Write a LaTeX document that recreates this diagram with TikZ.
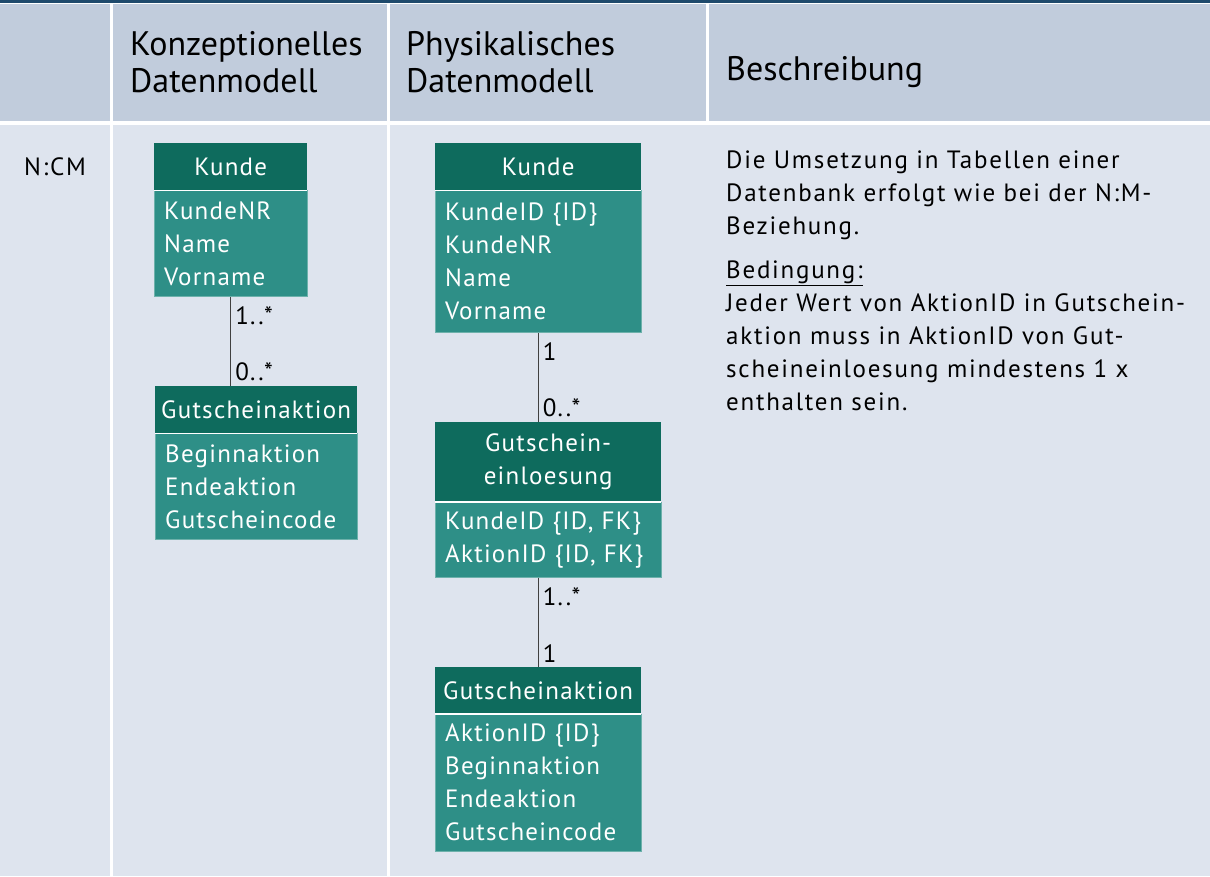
\documentclass[tikz,border=0pt]{standalone}
\usepackage{fontspec}
\setmainfont{PT Sans}[LetterSpace=7]
\newfontfamily\headfamily{PT Sans}
\newfontfamily\boxfamily{PT Sans}[LetterSpace=5]
\usetikzlibrary{positioning}

\definecolor{topline}{HTML}{1F4A6C}
\definecolor{headbg}{HTML}{C1CCDC}
\definecolor{cellbg}{HTML}{DEE4EE}
\definecolor{headteal}{HTML}{0E6B5D}
\definecolor{bodyteal}{HTML}{2E8F87}

\newcommand{\headfont}{\headfamily\fontsize{34}{37}\selectfont}
\newcommand{\cellfont}{\fontsize{25}{33}\selectfont}
\newcommand{\boxfont}{\boxfamily\fontsize{25}{33}\selectfont}

\begin{document}
\begin{tikzpicture}[
        x=1pt, y=-1pt,
        entityhead/.style={rectangle, fill=headteal, text=white, font=\boxfont,
                        minimum width=#1, minimum height=47pt, inner sep=0pt},
        entitybody/.style={rectangle, fill=bodyteal, draw=bodyteal!70!white, text=white, font=\boxfont,
                        align=left, text width=#1-20pt, inner xsep=10pt, inner ysep=11pt},
        multi/.style={font=\boxfont, inner sep=4pt},
        link/.style={draw=black!75, line width=1.2pt},
        sepline/.style={draw=white, line width=1.5pt}
    ]
        \useasboundingbox (0,0) rectangle (1210,876);
        \fill[white] (0,0) rectangle (1210,876);
        \fill[topline] (0,0) rectangle (1210,2.5);
        
        % table cells
        \foreach \xa/\xb in {0/110, 113/387, 390/706, 709/1210}
            \fill[headbg] (\xa,4) rectangle (\xb,121);
        \foreach \xa/\xb in {0/110, 113/387, 390/1210}
            \fill[cellbg] (\xa,125) rectangle (\xb,876);
        
        % header
        \node[font=\headfont, align=left, anchor=north west, inner sep=0pt] (konzhead) at (130,31) {Konzeptionelles\\Datenmodell};
        \node[font=\headfont, align=left, anchor=north west, inner sep=0pt] (physhead) at (406,31) {Physikalisches\\Datenmodell};
        \node[font=\headfont, anchor=base west, inner sep=0pt] (beschhead) at (726,80) {Beschreibung};
        
        \node[font=\cellfont, anchor=base west, inner sep=0pt] (ncm) at (24,175) {N:CM};
        
        % konzeptionelles Datenmodell
        \node[entityhead=153pt, anchor=north west] (kundeKH) at (154,143) {Kunde};
        \node[entitybody=153pt, below=0pt of kundeKH] (kundeKB) {KundeNR\\Name\\Vorname};
        \draw[sepline] (kundeKH.south west) -- (kundeKH.south east);
        
        \node[entityhead=202pt, below=89pt of kundeKB.south west, anchor=north west, xshift=1pt] (aktionKH) {Gutscheinaktion};
        \node[entitybody=202pt, below=0pt of aktionKH] (aktionKB) {Beginnaktion\\Endeaktion\\Gutscheincode};
        \draw[sepline] (aktionKH.south west) -- (aktionKH.south east);
        
        \draw[link] (kundeKB.south) -- node[multi, pos=0, anchor=north west, yshift=-5pt] {1..*}
            node[multi, pos=1, anchor=south west] {0..*} (kundeKB.south |- aktionKH.north);
        
        % physikalisches Datenmodell
        \node[entityhead=206pt, anchor=north west] (kundePH) at (435,143) {Kunde};
        \node[entitybody=206pt, minimum height=142pt, below=0pt of kundePH] (kundePB) {KundeID \{ID\}\\KundeNR\\Name\\Vorname};
        \draw[sepline] (kundePH.south west) -- (kundePH.south east);
        
        \node[entityhead=226pt, minimum height=80pt, align=center, below=89pt of kundePB.south west, anchor=north west] (einlPH) {Gutschein-\\einloesung};
        \node[entitybody=226pt, minimum height=75pt, inner ysep=8pt, below=0pt of einlPH] (einlPB) {KundeID \{ID, FK\}\\AktionID \{ID, FK\}};
        \draw[sepline] (einlPH.south west) -- (einlPH.south east);
        
        \node[entityhead=206pt, below=89pt of einlPB.south west, anchor=north west] (aktionPH) {Gutscheinaktion};
        \node[entitybody=206pt, minimum height=137pt, inner ysep=9pt, below=0pt of aktionPH] (aktionPB) {AktionID \{ID\}\\Beginnaktion\\Endeaktion\\Gutscheincode};
        \draw[sepline] (aktionPH.south west) -- (aktionPH.south east);
        
        \draw[link] (kundePB.south) -- node[multi, pos=0, anchor=north west, yshift=-5pt] {1}
            node[multi, pos=1, anchor=south west] {0..*} (kundePB.south |- einlPH.north);
        \draw[link] (aktionPH.north |- einlPB.south) -- node[multi, pos=0, anchor=north west, yshift=-5pt] {1..*}
            node[multi, pos=1, anchor=south west] {1} (aktionPH.north);
        
        % Beschreibung
        \node[font=\cellfont, align=left, anchor=north west, inner sep=0pt] (beschtext) at (726,151)
            {Die Umsetzung in Tabellen einer\\Datenbank erfolgt wie bei der N:M-\\Beziehung.\\[11pt]
             \underline{Bedingung:}\\Jeder Wert von AktionID in Gutschein-\\aktion muss in AktionID von Gut-\\scheineinloesung mindestens 1 x\\enthalten sein.};
    \end{tikzpicture}
\end{document}
